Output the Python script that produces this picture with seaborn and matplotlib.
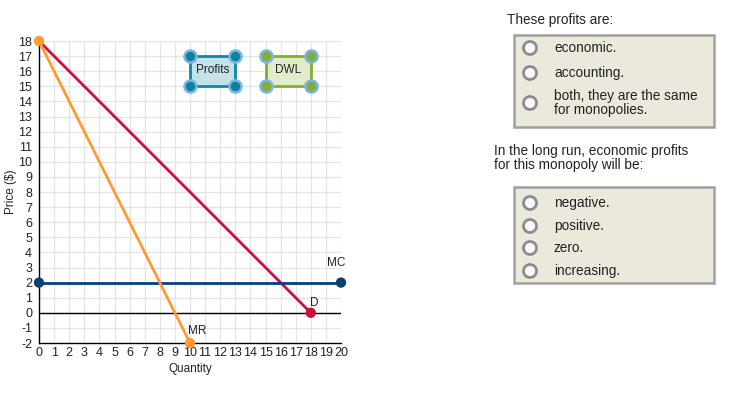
import matplotlib
matplotlib.use("Agg")
import matplotlib.pyplot as plt
import seaborn as sns
import pandas as pd
from matplotlib.patches import Rectangle, Circle

sns.set_style("white")
plt.rcParams['font.family'] = ['Liberation Sans', 'DejaVu Sans']

# ---- data ----
demand_q = [0, 18]
demand_p = [18, 0]
mr_q = [0, 10]
mr_p = [18, -2]
mc_q = [0, 20]
mc_p = [2, 2]
x_ticks = list(range(0, 21))
y_ticks = list(range(-2, 19))
profits_box_q = [10, 13]
profits_box_p = [15, 17]
dwl_box_q = [15, 18]
dwl_box_p = [15, 17]
q1_title = "These profits are:"
q1_options = ["economic.", "accounting.", "both, they are the same\nfor monopolies."]
q2_title = "In the long run, economic profits\nfor this monopoly will be:"
q2_options = ["negative.", "positive.", "zero.", "increasing."]

W, H = 734, 403
fig = plt.figure(figsize=(W / 100, H / 100), dpi=100)
ax = fig.add_axes([39 / W, 60 / H, 302 / W, 302 / H])

RED = "#cc0e3e"
ORANGE = "#ff9a33"
BLUE = "#0a3f73"
TXT = "#222222"

# grid
for v in x_ticks:
    ax.axvline(v, color="#e4e4e4", lw=0.9, zorder=0)
for v in y_ticks:
    ax.axhline(v, color="#e4e4e4", lw=0.9, zorder=0)
ax.axhline(0, color="black", lw=1, zorder=1)

df_d = pd.DataFrame({"q": demand_q, "p": demand_p})
df_mr = pd.DataFrame({"q": mr_q, "p": mr_p})
df_mc = pd.DataFrame({"q": mc_q, "p": mc_p})
sns.lineplot(data=df_d, x="q", y="p", ax=ax, color=RED, lw=2, zorder=3)
sns.lineplot(data=df_mr, x="q", y="p", ax=ax, color=ORANGE, lw=2, zorder=4)
sns.lineplot(data=df_mc, x="q", y="p", ax=ax, color=BLUE, lw=2, zorder=3)
sns.scatterplot(x=[demand_q[1]], y=[demand_p[1]], ax=ax, color=RED, s=55, edgecolor="none", zorder=5)
sns.scatterplot(x=mr_q, y=mr_p, ax=ax, color=ORANGE, s=55, edgecolor="none", zorder=6, clip_on=False)
sns.scatterplot(x=mc_q, y=mc_p, ax=ax, color=BLUE, s=55, edgecolor="none", zorder=5, clip_on=False)

ax.text(19.65, 3.3, "MC", fontsize=8.5, ha="center", va="center", color=TXT)
ax.text(18.2, 0.65, "D", fontsize=8.5, ha="center", va="center", color=TXT)
ax.text(10.5, -1.2, "MR", fontsize=8.5, ha="center", va="center", color=TXT)

# tool boxes
def tool_box(qs, ps, face, edge, dot, label):
    ax.add_patch(Rectangle((qs[0], ps[0]), qs[1] - qs[0], ps[1] - ps[0],
                           facecolor=face, edgecolor=edge, lw=2, zorder=6))
    cq = [qs[0], qs[1], qs[0], qs[1]]
    cp = [ps[0], ps[0], ps[1], ps[1]]
    sns.scatterplot(x=cq, y=cp, ax=ax, color=dot, s=75, edgecolor="#7ab4ea", linewidth=1.8, zorder=7)
    ax.text((qs[0] + qs[1]) / 2, (ps[0] + ps[1]) / 2 + 0.05, label, fontsize=8.5,
            ha="center", va="center", zorder=8, color=TXT)

tool_box(profits_box_q, profits_box_p, "#c3e2e9", "#13879f", "#0e8299", "Profits")
tool_box(dwl_box_q, dwl_box_p, "#e2ebcb", "#86ad30", "#86ad30", "DWL")

ax.set_xlim(0, 20)
ax.set_ylim(-2, 18)
ax.set_xticks(x_ticks)
ax.set_yticks(y_ticks)
ax.set_xticklabels([str(v) for v in x_ticks], fontsize=9, color=TXT)
ax.set_yticklabels([str(v) for v in y_ticks], fontsize=9, color=TXT)
ax.tick_params(axis="x", direction="in", length=4, width=0.8, pad=3, color="#333333")
ax.tick_params(axis="y", length=0, pad=5)
for s in ["top", "right"]:
    ax.spines[s].set_visible(False)
for s in ["left", "bottom"]:
    ax.spines[s].set_color("black")
    ax.spines[s].set_linewidth(1)
ax.set_xlabel("Quantity", fontsize=8.5, labelpad=3, color=TXT)
ax.set_ylabel("Price ($)", fontsize=8.5, color=TXT)
ax.yaxis.set_label_coords(-0.074, 0.5)

# right panel overlay in pixel coordinates
ov = fig.add_axes([0, 0, 1, 1], zorder=10)
ov.set_xlim(0, W)
ov.set_ylim(H, 0)
ov.axis("off")
ov.patch.set_alpha(0)

def radio(x, y):
    ov.add_patch(Circle((x, y), 6.5, facecolor="#f8f8f8", edgecolor="#8c8c8c", lw=2))

FS = 9.8
ov.text(507, 20, q1_title, fontsize=FS, va="center", ha="left", color=TXT)
ov.add_patch(Rectangle((514, 35), 200, 92, facecolor="#ebe8dc", edgecolor="#a0a0a0", lw=1.8))
ys1 = [48, 73, 103]
for y, t in zip(ys1, q1_options):
    radio(530, y)
    ov.text(554, y, t, fontsize=FS, va="center", ha="left", linespacing=1.0, color=TXT)

ov.text(494, 158, q2_title, fontsize=FS, va="center", ha="left", linespacing=1.0, color=TXT)
ov.add_patch(Rectangle((514, 187), 200, 96, facecolor="#ebe8dc", edgecolor="#a0a0a0", lw=1.8))
ys2 = [203, 226, 248, 271]
for y, t in zip(ys2, q2_options):
    radio(530, y)
    ov.text(554, y, t, fontsize=FS, va="center", ha="left", color=TXT)

fig.savefig("out.png", dpi=100)
